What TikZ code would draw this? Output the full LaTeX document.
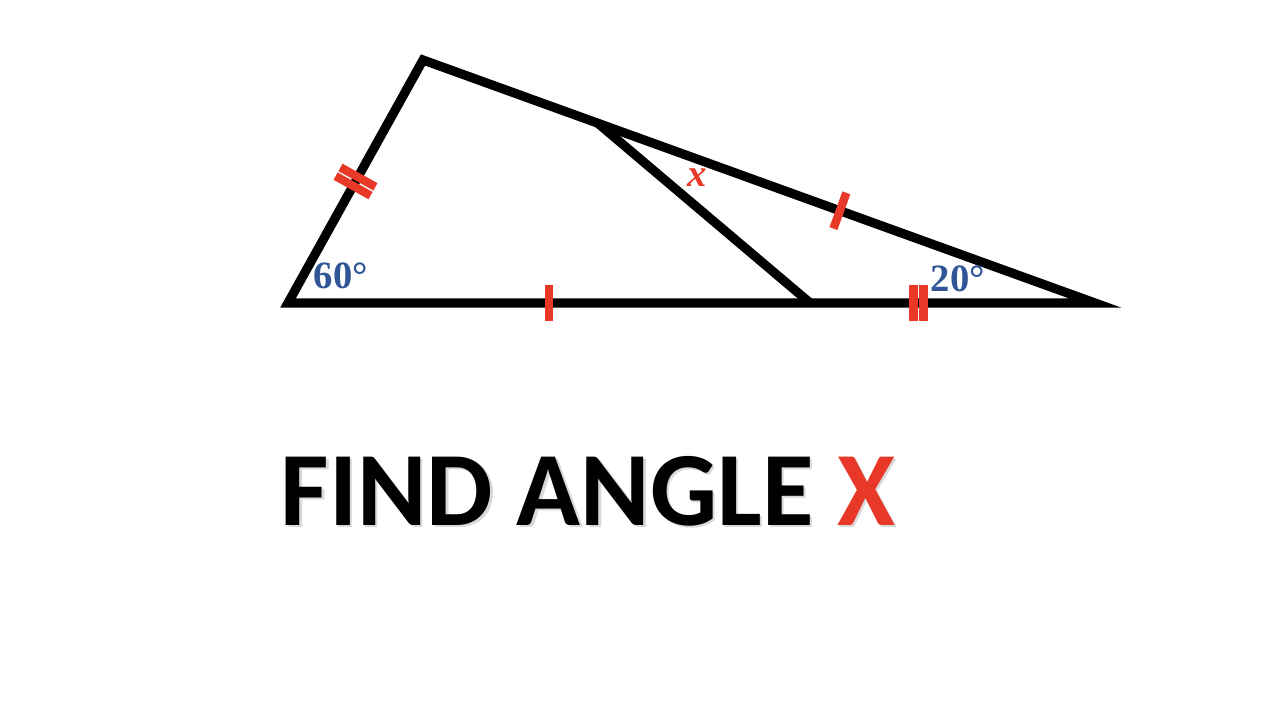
\documentclass[tikz,border=0pt]{standalone}
\usepackage{fontspec}
\setmainfont{Liberation Serif}
\newfontfamily\titlefont{Carlito}
\usetikzlibrary{calc}
\definecolor{markred}{RGB}{232,56,40}
\definecolor{labelblue}{RGB}{47,85,151}
\tikzset{
    side/.style={line width=2.6pt,line join=miter},
    tick/.style={markred,line width=2.4pt},
    anglelabel/.style={labelblue,font=\bfseries\fontsize{11}{13}\selectfont}
}

\begin{document}
\begin{tikzpicture}
\useasboundingbox (0,0) rectangle (12.8,7.2);
    \coordinate (A) at (2.88,4.17);
    \coordinate (B) at (4.23,6.6);
    \coordinate (C) at (10.95,4.17);
    \coordinate (D) at ($(B)!0.26!(C)$);
    \coordinate (E) at ($(A)!0.647!(C)$);
    \draw[side] (A) -- (B) -- (C) -- cycle;
    \draw[side] (D) -- (E);
    % equal sides
    \coordinate (m1) at ($(A)!0.5!(B)$);
    \coordinate (m1a) at ($(m1)!0.05cm!(B)$);
    \coordinate (m1b) at ($(m1)!-0.05cm!(B)$);
    \draw[tick] ($(m1a)!0.2cm!90:(B)$) -- ($(m1a)!0.2cm!-90:(B)$);
    \draw[tick] ($(m1b)!0.2cm!90:(B)$) -- ($(m1b)!0.2cm!-90:(B)$);
    \coordinate (m2) at ($(A)!0.5!(E)$);
    \draw[tick] ($(m2)!0.18cm!90:(E)$) -- ($(m2)!0.18cm!-90:(E)$);
    \coordinate (m3) at ($(D)!0.487!(C)$);
    \draw[tick] ($(m3)!0.19cm!90:(C)$) -- ($(m3)!0.19cm!-90:(C)$);
    \coordinate (m4) at ($(E)!0.38!(C)$);
    \coordinate (m4a) at ($(m4)!-0.05cm!(C)$);
    \coordinate (m4b) at ($(m4)!0.05cm!(C)$);
    \draw[tick] ($(m4a)!0.18cm!90:(C)$) -- ($(m4a)!0.18cm!-90:(C)$);
    \draw[tick] ($(m4b)!0.18cm!90:(C)$) -- ($(m4b)!0.18cm!-90:(C)$);
    % labels
    \node[anglelabel] (angA) at (3.41,4.44) {60°};
    \node[anglelabel] (angC) at (9.58,4.41) {20°};
    \node[text=markred,font=\bfseries\itshape\fontsize{11}{13}\selectfont] (angx) at (6.97,5.42) {x};
    \node[text=gray!30,font=\titlefont\bfseries\fontsize{30}{36}\selectfont] (shadow) at (5.905,2.265) {FIND ANGLE X};
    \node[font=\titlefont\bfseries\fontsize{30}{36}\selectfont] (title) at (5.88,2.29) {FIND ANGLE \textcolor{markred}{X}};
\end{tikzpicture}
\end{document}
